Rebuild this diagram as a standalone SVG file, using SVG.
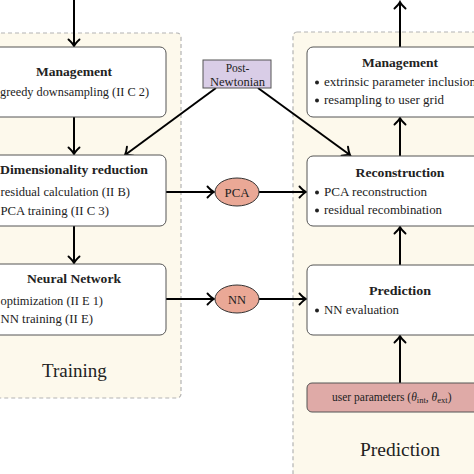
<svg xmlns="http://www.w3.org/2000/svg" width="474" height="474" viewBox="0 0 474 474">
<defs>
<marker id="arr" markerUnits="userSpaceOnUse" markerWidth="14" markerHeight="14" viewBox="-8 -7 10 14" refX="0" refY="0" orient="auto" overflow="visible">
<path d="M -6.5 -5.5 Q -2.5 -1.2 0 0 Q -2.5 1.2 -6.5 5.5" fill="none" stroke="#000" stroke-width="1.9" stroke-linecap="round"/>
</marker>
<style>
.panel{fill:#fdf9ec;stroke:#b3b3b3;stroke-width:1.2;stroke-dasharray:4 3}
.box{fill:#fff;stroke:#555;stroke-width:1}
.t{font-family:"Liberation Serif","DejaVu Serif",serif;font-size:12.5px;fill:#222}
.b{font-family:"Liberation Serif","DejaVu Serif",serif;font-size:13px;font-weight:bold;fill:#222}
.big{font-family:"Liberation Serif","DejaVu Serif",serif;font-size:19px;fill:#222}
.s{font-family:"Liberation Serif","DejaVu Serif",serif;font-size:11.5px;fill:#222}
.c{stroke:#000;stroke-width:2;fill:none;marker-end:url(#arr)}
.ell{fill:#eaa896;stroke:#333;stroke-width:1}
.dot{fill:#222}
</style>
</defs>
<g id="panel-training">
<rect class="panel" x="-10" y="33" width="191" height="365" rx="4"/>
<text class="big" x="74.5" y="377" text-anchor="middle">Training</text>
</g>
<g id="panel-prediction">
<rect class="panel" x="293" y="32" width="200" height="460" rx="4"/>
<text class="big" x="400" y="456" text-anchor="middle" textLength="80" lengthAdjust="spacingAndGlyphs">Prediction</text>
</g>
<g id="connectors">
<line class="c" x1="74" y1="0" x2="74" y2="46"/>
<line class="c" x1="74" y1="117" x2="74" y2="154"/>
<line class="c" x1="74" y1="226" x2="74" y2="263"/>
<line class="c" x1="216" y1="88" x2="125" y2="155"/>
<line class="c" x1="258" y1="88" x2="350" y2="155"/>
<line class="c" x1="166" y1="192" x2="214" y2="192"/>
<line class="c" x1="259" y1="192" x2="306" y2="192"/>
<line class="c" x1="166" y1="299" x2="214" y2="299"/>
<line class="c" x1="259" y1="299" x2="306" y2="299"/>
<line class="c" x1="400" y1="47" x2="400" y2="2"/>
<line class="c" x1="400" y1="156" x2="400" y2="118"/>
<line class="c" x1="400" y1="265" x2="400" y2="227"/>
<line class="c" x1="400" y1="383" x2="400" y2="336"/>
</g>
<g id="train-management">
<rect class="box" x="-20" y="47" width="186" height="70" rx="6"/>
<text class="b" x="74" y="76" text-anchor="middle" textLength="76" lengthAdjust="spacingAndGlyphs">Management</text>
<text class="t" x="0" y="96" textLength="149" lengthAdjust="spacingAndGlyphs">greedy downsampling (II C 2)</text>
</g>
<g id="train-dimred">
<rect class="box" x="-20" y="155" width="186" height="71" rx="6"/>
<text class="b" x="74" y="174" text-anchor="middle" textLength="148" lengthAdjust="spacingAndGlyphs">Dimensionality reduction</text>
<text class="t" x="0.5" y="196" textLength="129.5" lengthAdjust="spacingAndGlyphs">residual calculation (II B)</text>
<text class="t" x="0.5" y="215" textLength="108.5" lengthAdjust="spacingAndGlyphs">PCA training (II C 3)</text>
</g>
<g id="train-nn">
<rect class="box" x="-20" y="264" width="186" height="71" rx="6"/>
<text class="b" x="74" y="283" text-anchor="middle" textLength="94" lengthAdjust="spacingAndGlyphs">Neural Network</text>
<text class="t" x="0.5" y="305" textLength="102.5" lengthAdjust="spacingAndGlyphs">optimization (II E 1)</text>
<text class="t" x="0.5" y="323" textLength="92.5" lengthAdjust="spacingAndGlyphs">NN training (II E)</text>
</g>
<g id="post-newtonian">
<rect x="203" y="60" width="68" height="28" fill="#d9cde7" stroke="#555" stroke-width="1"/>
<text class="s" x="237.5" y="72" text-anchor="middle">Post-</text>
<text class="s" x="237.5" y="86" text-anchor="middle" textLength="55" lengthAdjust="spacingAndGlyphs">Newtonian</text>
</g>
<g id="pca">
<ellipse class="ell" cx="237" cy="192" rx="22" ry="14"/>
<text class="t" x="237" y="196.5" text-anchor="middle" textLength="25" lengthAdjust="spacingAndGlyphs">PCA</text>
</g>
<g id="nn">
<ellipse class="ell" cx="237" cy="299" rx="22" ry="14"/>
<text class="t" x="237" y="303.5" text-anchor="middle" textLength="18" lengthAdjust="spacingAndGlyphs">NN</text>
</g>
<g id="pred-management">
<rect class="box" x="307" y="47" width="190" height="70" rx="6"/>
<text class="b" x="400" y="67" text-anchor="middle" textLength="76" lengthAdjust="spacingAndGlyphs">Management</text>
<circle class="dot" cx="317" cy="82.5" r="2"/>
<text class="t" x="324" y="86" textLength="152" lengthAdjust="spacingAndGlyphs">extrinsic parameter inclusion</text>
<circle class="dot" cx="317" cy="100.5" r="2"/>
<text class="t" x="324" y="104" textLength="120" lengthAdjust="spacingAndGlyphs">resampling to user grid</text>
</g>
<g id="reconstruction">
<rect class="box" x="307" y="156" width="190" height="70" rx="6"/>
<text class="b" x="400" y="177" text-anchor="middle" textLength="89" lengthAdjust="spacingAndGlyphs">Reconstruction</text>
<circle class="dot" cx="317" cy="192.5" r="2"/>
<text class="t" x="324" y="196" textLength="103" lengthAdjust="spacingAndGlyphs">PCA reconstruction</text>
<circle class="dot" cx="317" cy="210.5" r="2"/>
<text class="t" x="324" y="214" textLength="118" lengthAdjust="spacingAndGlyphs">residual recombination</text>
</g>
<g id="prediction">
<rect class="box" x="307" y="265" width="190" height="70" rx="6"/>
<text class="b" x="400" y="295" text-anchor="middle" textLength="62" lengthAdjust="spacingAndGlyphs">Prediction</text>
<circle class="dot" cx="317" cy="310.5" r="2"/>
<text class="t" x="324" y="314" textLength="75" lengthAdjust="spacingAndGlyphs">NN evaluation</text>
</g>
<g id="user-parameters">
<rect x="307" y="383" width="190" height="29" rx="5" fill="#dfaaa7" stroke="#555" stroke-width="1"/>
<text class="s" x="332" y="401">user parameters (<tspan font-style="italic">θ</tspan><tspan font-size="8.5" dy="2">int</tspan><tspan dy="-2">, </tspan><tspan font-style="italic">θ</tspan><tspan font-size="8.5" dy="2">ext</tspan><tspan dy="-2">)</tspan></text>
</g>
</svg>
